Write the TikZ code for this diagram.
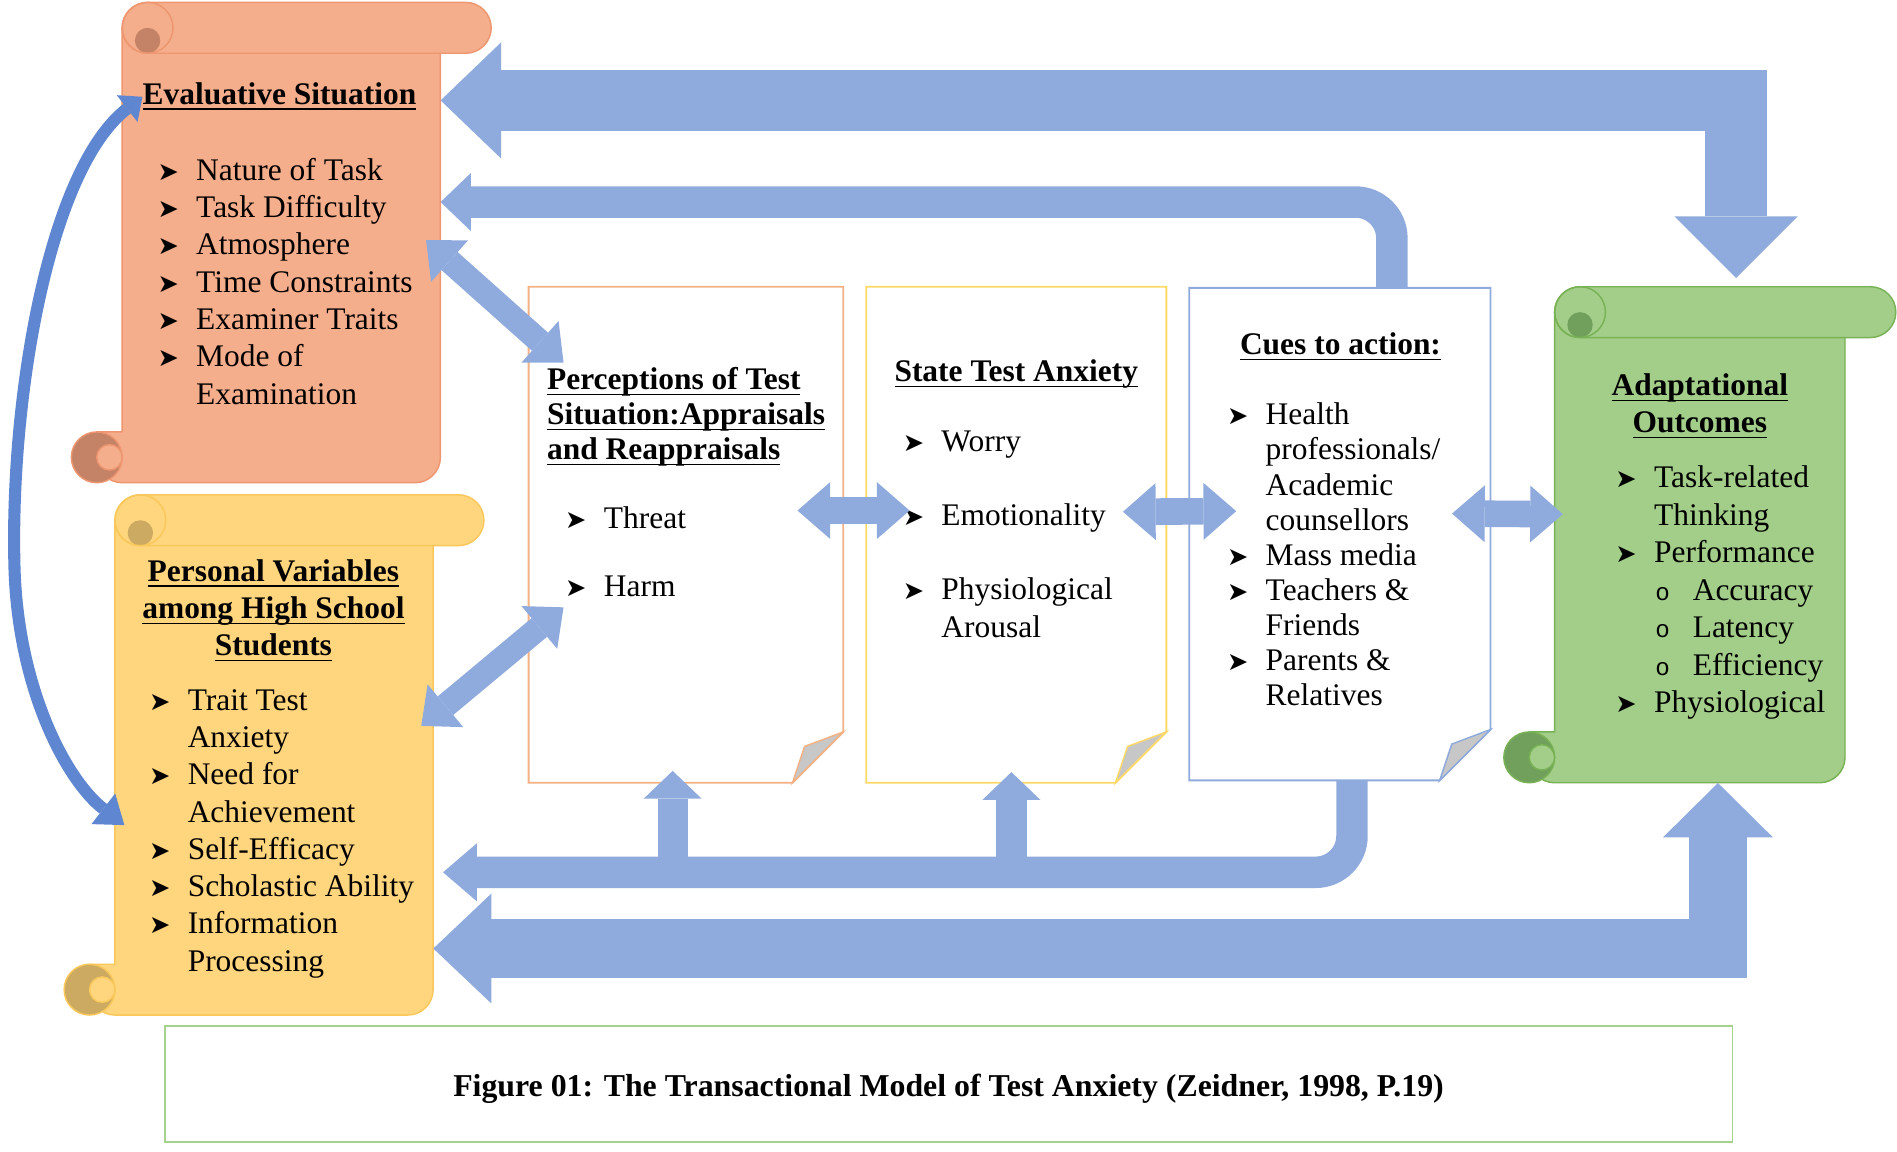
\documentclass[tikz,border=0pt]{standalone}
\usepackage{fontspec}
\setmainfont{Liberation Serif}
\newfontfamily\dejavu{DejaVu Sans}
\newfontfamily\mono{Liberation Mono}
\usetikzlibrary{arrows.meta,positioning,fit,calc}

\definecolor{arrowblue}{RGB}{143,170,220}
\definecolor{curveblue}{RGB}{95,134,208}
\definecolor{evalfill}{RGB}{245,174,140}
\definecolor{evaldark}{RGB}{196,130,102}
\definecolor{evaledge}{RGB}{238,150,112}
\definecolor{persfill}{RGB}{255,214,125}
\definecolor{persdark}{RGB}{204,170,98}
\definecolor{persedge}{RGB}{250,200,90}
\definecolor{adaptfill}{RGB}{163,206,137}
\definecolor{adaptdark}{RGB}{112,160,92}
\definecolor{adaptedge}{RGB}{120,178,85}
\definecolor{percedge}{RGB}{244,177,131}
\definecolor{stateedge}{RGB}{255,217,102}
\definecolor{cuesedge}{RGB}{143,170,220}
\definecolor{captionedge}{RGB}{169,209,142}

\newsavebox{\ttlbox}
\newcommand{\bl}{{\dejavu\fontsize{21}{21}\selectfont ➤}}
\newcommand{\itm}[1]{\strut\makebox[32pt][l]{\bl}#1}
\newcommand{\cnt}[1]{\strut\hspace*{32pt}#1}
\newcommand{\subitm}[1]{\strut\hspace*{33pt}\makebox[31pt][l]{\mono\fontsize{20}{20}\selectfont o}#1}
\newcommand{\ttl}[1]{\strut\sbox{\ttlbox}{#1}\rlap{\rule[-4.8pt]{\wd\ttlbox}{1.3pt}}\usebox{\ttlbox}}

% scroll: name, x1, y1, x2, y2, fill, dark, edge
\newcommand{\drawscroll}[8]{%
  \filldraw[fill=#6, draw=#8, line width=1.2pt] (#2,#3+21) -- (#4,#3+21) [rounded corners=21pt] -- (#4,#5) -- (#2-21,#5) [sharp corners] -- (#2-21,#5-42) -- (#2,#5-42) -- cycle;
  \filldraw[fill=#6, draw=#8, line width=1.2pt, rounded corners=21pt] (#2,#3) rectangle (#4+42,#3+42);
  \fill[#7] (#2+21,#3+31.5) circle[radius=10.5pt];
  \draw[#8, line width=1.2pt] (#2+21,#3+21) circle[radius=21pt];
  \filldraw[fill=#7, draw=#8, line width=1.2pt] (#2-21,#5-21) circle[radius=21pt];
  \filldraw[fill=#6, draw=#8, line width=1.2pt] (#2-10.5,#5-21) circle[radius=10.5pt];
  \node[inner sep=0pt, fit={(#2,#3) (#4,#5)}] (#1) {};
}
% page with folded corner: name, x1, y1, x2, y2, edge
\newcommand{\drawnote}[6]{%
  \filldraw[fill=white, draw=#6, line width=1.6pt] (#2,#3) -- (#4,#3) -- (#4,#5-42) -- (#4-42,#5) -- (#2,#5) -- cycle;
  \filldraw[fill=black!22, draw=#6, line width=1.2pt] (#4,#5-42) -- (#4-42,#5) -- (#4-32,#5-30) -- cycle;
  \node[inner sep=0pt, fit={(#2,#3) (#4,#5)}] (#1) {};
}

\begin{document}
\begin{tikzpicture}[x=1pt, y=-1pt,
  blockarrow/.style={draw=arrowblue, line width=#1},
  head/.style 2 args={arrows={-Triangle[width=#1,length=#2,line width=0pt]}},
  heads/.style 2 args={arrows={Triangle[width=#1,length=#2,line width=0pt]-Triangle[width=#1,length=#2,line width=0pt]}},
  curvearrow/.style={draw=curveblue, line width=10pt, arrows={Triangle[width=28pt,length=16pt,line width=0pt]-Triangle[width=32pt,length=22pt,line width=0pt]}},
  titletext/.style={inner sep=0pt, align=center, font=\fontsize{26}{30.8}\selectfont\bfseries},
  listtext/.style={inner sep=0pt, align=left, anchor=north west, font=\fontsize{26}{30.8}\selectfont},
]
\useasboundingbox (0,0) rectangle (1568,952);
\fill[white] (0,0) rectangle (1568,952);

% Scrolls
\drawscroll{eval}{101}{2}{364}{399}{evalfill}{evaldark}{evaledge}
\drawscroll{pers}{95}{409}{358}{839}{persfill}{persdark}{persedge}
\drawscroll{adapt}{1285}{237}{1525}{647}{adaptfill}{adaptdark}{adaptedge}

% Pages
\drawnote{percep}{437}{237}{697}{647}{percedge}
\drawnote{state}{716}{237}{964}{647}{stateedge}
\drawnote{cues}{983}{238}{1232}{645}{cuesedge}

% Caption
\node[draw=captionedge, line width=1.6pt, minimum width=1296pt, minimum height=96pt] (caption) at (784,896) {};
\node[font=\fontsize{26.3}{30}\selectfont\bfseries] (captiontext) at (784,900) {Figure 01: The Transactional Model of Test Anxiety (Zeidner, 1998, P.19)};

% Evaluative situation
\node[titletext] (evaltitle) at (231,80) {\ttl{Evaluative Situation}};
\node[listtext] (evallist) at (130,127.4) {\itm{Nature of Task}\\ \itm{Task Difficulty}\\ \itm{Atmosphere}\\ \itm{Time Constraints}\\ \itm{Examiner Traits}\\ \itm{Mode of}\\ \cnt{Examination}};

% Personal variables
\node[titletext] (perstitle) at (226,505) {\ttl{Personal Variables}\\ \ttl{among High School}\\ \ttl{Students}};
\node[listtext] (perslist) at (123,565.4) {\itm{Trait Test}\\ \cnt{Anxiety}\\ \itm{Need for}\\ \cnt{Achievement}\\ \itm{Self-Efficacy}\\ \itm{Scholastic Ability}\\ \itm{Information}\\ \cnt{Processing}};

% Perceptions
\node[titletext, align=left, anchor=west, font=\fontsize{26}{29}\selectfont\bfseries] (perctitle) at (452,345) {\ttl{Perceptions of Test}\\ \ttl{Situation:Appraisals}\\ \ttl{and Reappraisals}};
\node[listtext] (perclist) at (467,415.4) {\itm{Threat}\\[25.2pt] \itm{Harm}};

% State test anxiety
\node[titletext] (statetitle) at (840,309) {\ttl{State Test Anxiety}};
\node[listtext] (statelist) at (746,351.4) {\itm{Worry}\\[30pt] \itm{Emotionality}\\[31pt] \itm{Physiological}\\ \cnt{Arousal}};

% Cues to action
\node[titletext] (cuestitle) at (1108,287) {\ttl{Cues to action:}};
\node[listtext, font=\fontsize{26}{29}\selectfont] (cueslist) at (1014,330.7) {\itm{Health}\\ \cnt{professionals/}\\ \cnt{Academic}\\ \cnt{counsellors}\\ \itm{Mass media}\\ \itm{Teachers \&}\\ \cnt{Friends}\\ \itm{Parents \&}\\ \cnt{Relatives}};

% Adaptational outcomes
\node[titletext] (adapttitle) at (1405,336) {\ttl{Adaptational}\\ \ttl{Outcomes}};
\node[listtext, font=\fontsize{26}{31}\selectfont] (adaptlist) at (1335,381.3) {\itm{Task-related}\\ \cnt{Thinking}\\ \itm{Performance}\\ \subitm{Accuracy}\\ \subitm{Latency}\\ \subitm{Efficiency}\\ \itm{Physiological}};

% Rails for the long arrows
\coordinate (toprail) at (0,83);
\coordinate (cuesrail) at (0,167);
\coordinate (lowrail) at (0,721);
\coordinate (baserail) at (0,784);

% Arrows
\draw[blockarrow=51pt, arrows={Triangle[width=96pt,length=50pt,line width=0pt]-Triangle[width=102pt,length=51pt,line width=0pt]}] (eval.east |- toprail) -| ($(adapt.north)+(30,-7)$);
\draw[blockarrow=26pt, rounded corners=30pt, head={48pt}{25pt}] ($(cues.north)+(43,0)$) |- (eval.east |- cuesrail);
\draw[blockarrow=26pt, rounded corners=30pt, head={48pt}{28pt}] ($(cues.south)+(10,0)$) |- ($(pers.east |- lowrail)+(8,0)$);
\draw[blockarrow=48pt, arrows={Triangle[width=91pt,length=48pt,line width=0pt]-Triangle[width=91pt,length=45pt,line width=0pt]}] (pers.east |- baserail) -| ($(adapt.south)+(15,0)$);
\draw[blockarrow=25pt, head={48pt}{23pt}] ($(percep.south)+(-11,69)$) -- ($(percep.south)+(-11,-10)$);
\draw[blockarrow=25pt, head={48pt}{23pt}] ($(state.south)+(-4,69)$) -- ($(state.south)+(-4,-9)$);
\draw[blockarrow=22pt, heads={47pt}{27pt}] ($(percep.east)+(-38,-20)$) -- ($(state.west)+(36,-20)$);
\draw[blockarrow=22pt, heads={47pt}{27pt}] ($(state.east)+(-36,-19)$) -- ($(cues.west)+(39,-19)$);
\draw[blockarrow=22pt, heads={47pt}{27pt}] ($(cues.east)+(-32,-17)$) -- ($(adapt.west)+(7,-17)$);
\draw[blockarrow=20pt, heads={46pt}{26pt}] ($(eval.east)+(-12,-2)$) -- ($(percep.north west)+(29,63)$);
\draw[blockarrow=20pt, heads={46pt}{26pt}] ($(pers.east)+(-10,-24)$) -- ($(percep.west)+(29,60)$);
\draw[curvearrow] (evaltitle.west) .. controls (40,140) and (8,330) .. (12,470) .. controls (15,570) and (55,645) .. ($(pers.west)+(8,58)$);

\end{tikzpicture}
\end{document}
